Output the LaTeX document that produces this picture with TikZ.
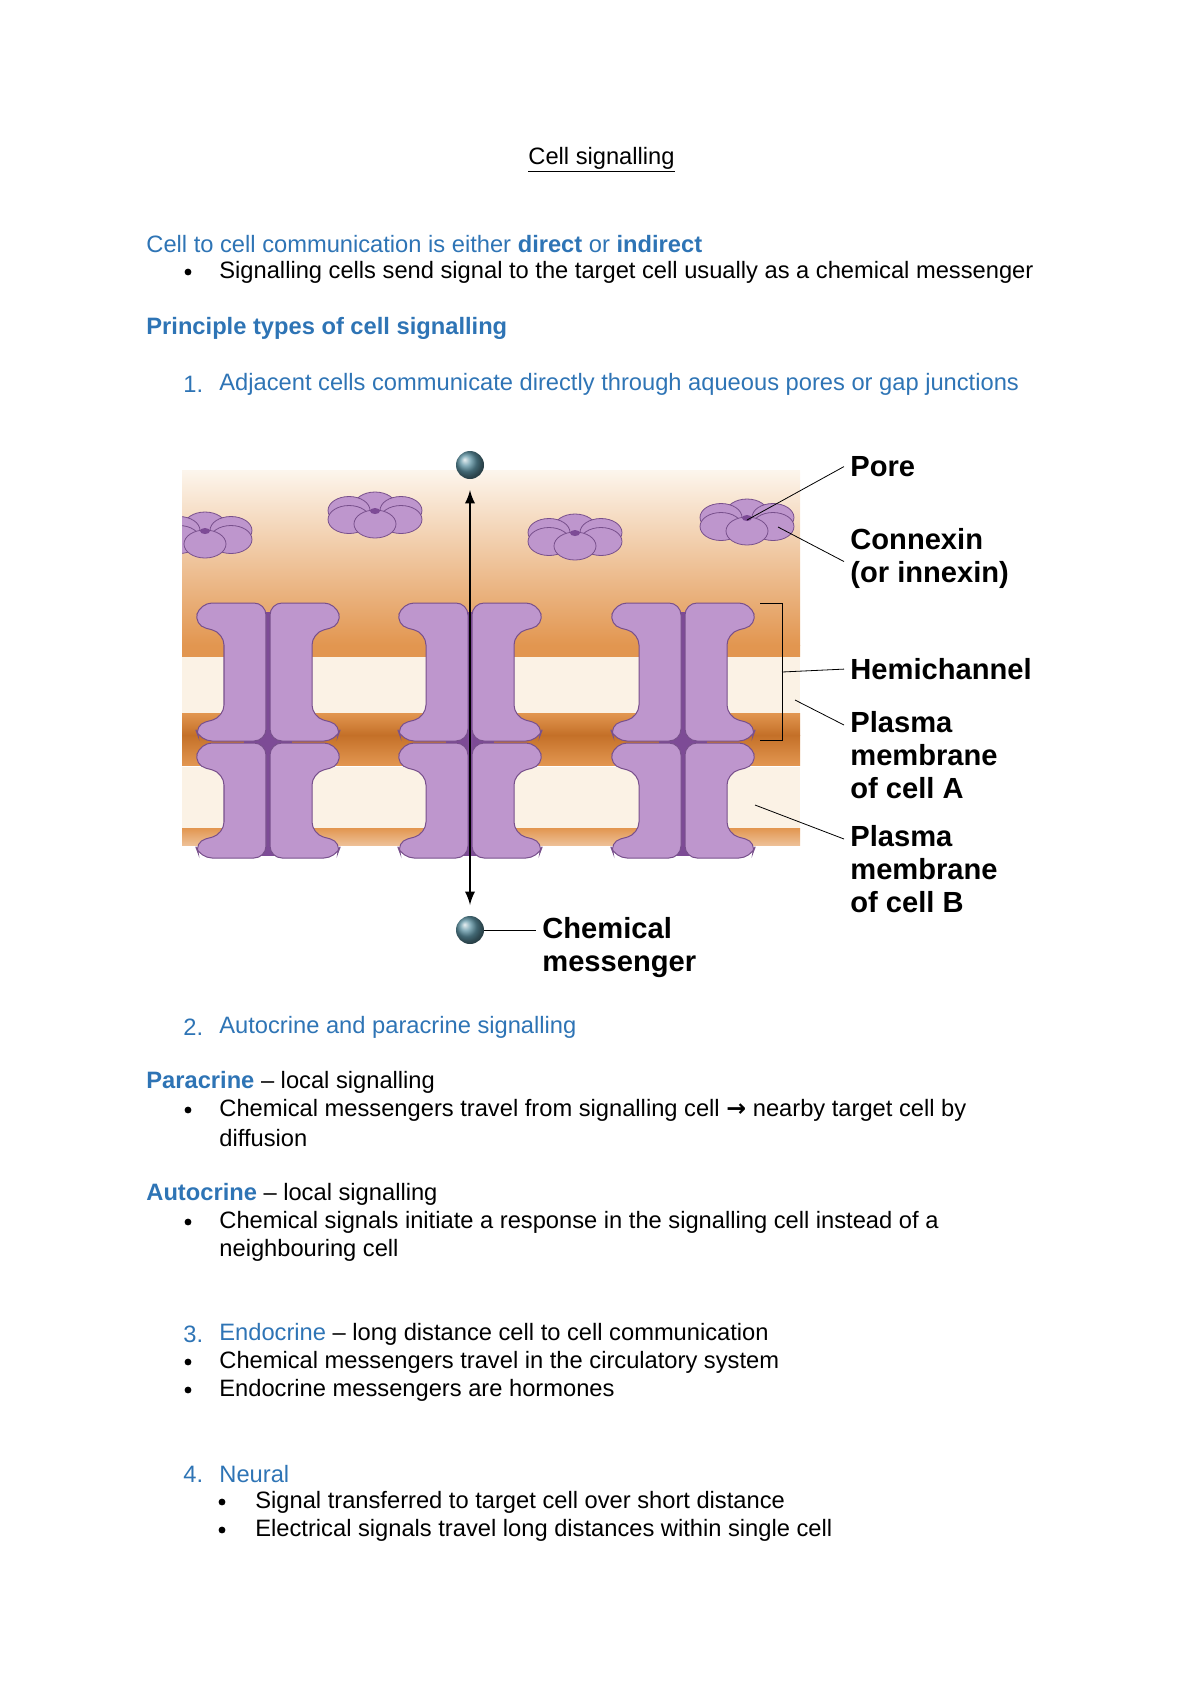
\documentclass[tikz,border=0pt]{standalone}
\usepackage{fontspec}
\setmainfont{Liberation Sans}
\newfontfamily\symfont{DejaVu Sans}
\definecolor{headblue}{RGB}{46,116,181}
\definecolor{memorange}{RGB}{226,150,80}
\definecolor{memdark}{RGB}{196,112,40}
\definecolor{memcream}{RGB}{250,236,218}
\definecolor{protlight}{RGB}{190,150,205}
\definecolor{protdark}{RGB}{125,75,150}
\definecolor{protedge}{RGB}{120,80,140}
\definecolor{balllight}{RGB}{120,175,190}
\definecolor{balldark}{RGB}{30,80,100}
\begin{document}
\begin{tikzpicture}[
    x=0.0175cm, y=-0.0175cm,
    txt/.style={anchor=west, inner sep=0pt, font=\fontsize{11.8}{13}\selectfont},
    bluetxt/.style={txt, text=headblue},
    bullet/.style={circle, fill=black, inner sep=0pt, minimum size=0.12cm},
    lab/.style={anchor=north west, inner sep=0pt, align=left,
        font=\fontsize{14.5}{16.5}\selectfont\bfseries},
    pointer/.style={thin, black},
    subunit/.style={fill=protlight, draw=protedge, line width=0.5pt, rounded corners=6pt},
    petal/.style={fill=protlight, draw=protedge, line width=0.4pt}
]
\useasboundingbox (0,0) rectangle (1200,1698);

% text above the picture
\node[txt] (title) at (528,160) {\underline{Cell signalling}};
\node[bluetxt] (intro) at (146,244) {Cell to cell communication is either \textbf{direct} or \textbf{indirect}};
\node[bullet] (b1) at (188,272) {};
\node[txt] (t1) at (219,272) {Signalling cells send signal to the target cell usually as a chemical messenger};
\node[bluetxt, font=\fontsize{11.8}{13}\selectfont\bfseries] (types) at (146,328) {Principle types of cell signalling};
\node[bluetxt] (n1) at (183,384) {1.};
\node[bluetxt] (t2) at (219,384) {Adjacent cells communicate directly through aqueous pores or gap junctions};

% membranes
\shade[top color=memcream!50!white, bottom color=memorange] (182,470) rectangle (800,645);
\fill[memcream!70!white] (182,652) rectangle (800,715);
\shade[top color=memorange, bottom color=memorange] (182,645) rectangle (800,656);
\shade[top color=memorange, bottom color=memdark] (182,713) rectangle (800,735);
\shade[top color=memdark, bottom color=memorange] (182,735) rectangle (800,765);
\fill[memcream!70!white] (182,767) rectangle (800,830);
\shade[top color=memorange, bottom color=memorange!60!white] (182,828) rectangle (800,845);

% connexons seen from above
\begin{scope}
\clip (182,440) rectangle (800,600);
\foreach \cx/\cy in {205/535, 375/515, 575/537, 747/522} {
  \foreach \a in {90,30,150,210,330,270}
    \draw[petal] ({\cx+30*cos(\a)},{\cy-9*sin(\a)}) ellipse [x radius=21, y radius=14];
  \fill[protdark] (\cx,\cy-4) ellipse [x radius=5, y radius=3];
}
\end{scope}

% gap junction channels
\foreach \cx in {268,470,683} {
  \fill[protdark] (\cx-24,612) rectangle (\cx+24,856);
  \foreach \t/\b in {603/741, 743/858} {
    \draw[subunit] (\cx-2,\t) -- (\cx-2,\b) -- (\cx-68,\b) -- (\cx-74,\b-16)
        -- (\cx-44,\b-24) -- (\cx-44,\t+30) -- (\cx-74,\t+22) -- (\cx-68,\t) -- cycle;
    \draw[subunit] (\cx+2,\t) -- (\cx+2,\b) -- (\cx+68,\b) -- (\cx+74,\b-16)
        -- (\cx+44,\b-24) -- (\cx+44,\t+30) -- (\cx+74,\t+22) -- (\cx+68,\t) -- cycle;
  }
}

% chemical messenger
\shade[ball color=balllight!70!balldark] (470,465) circle (14);
\node[circle, inner sep=0pt, minimum size=28*0.0175cm] (ballbot) at (470,930) {};
\shade[ball color=balllight!70!balldark] (ballbot) circle (14);
\coordinate (arrtop) at (470,490);
\coordinate (arrbot) at (470,905);
\draw[line width=1.3pt, <->, >=latex] (arrbot) -- (arrtop);

% labels
\node[lab] (pore) at (850,456) {Pore};
\node[lab] (conn) at (850,528) {Connexin\\(or innexin)};
\node[lab] (hemi) at (850,658) {Hemichannel};
\node[lab] (pmA) at (850,711) {Plasma\\membrane\\of cell A};
\node[lab] (pmB) at (850,825) {Plasma\\membrane\\of cell B};
\node[lab] (chem) at (542,917) {Chemical\\messenger};

\coordinate (porept) at (747,520);
\coordinate (connpt) at (778,527);
\coordinate (hemipt) at (782,672);
\coordinate (pmApt) at (795,700);
\coordinate (pmBpt) at (755,805);
\draw[pointer] (pore.west) ++(-6,0) -- (porept);
\draw[pointer] (conn.west) ++(-6,3) -- (connpt);
\draw[pointer] (760,603) -- (782,603) -- (782,740) -- (760,740);
\draw[pointer] (hemipt) -- ([xshift=-6*0.0175cm]hemi.west);
\draw[pointer] (pmA.north west) ++(-6,14) -- (pmApt);
\draw[pointer] (pmB.north west) ++(-6,14) -- (pmBpt);
\draw[pointer] (ballbot.east) -- ([xshift=-6*0.0175cm]chem.west |- ballbot);

% text below the picture
\node[bluetxt] (n2) at (183,1027) {2.};
\node[bluetxt] (t3) at (219,1027) {Autocrine and paracrine signalling};
\node[txt] (para) at (146,1082) {\textcolor{headblue}{\textbf{Paracrine}} -- local signalling};
\node[bullet] (b2) at (188,1110) {};
\node[txt] (t4) at (219,1110) {Chemical messengers travel from signalling cell {\symfont\bfseries →} nearby target cell by};
\node[txt] (t4b) at (219,1138) {diffusion};
\node[txt] (auto) at (146,1194) {\textcolor{headblue}{\textbf{Autocrine}} -- local signalling};
\node[bullet] (b3) at (188,1222) {};
\node[txt] (t5) at (219,1222) {Chemical signals initiate a response in the signalling cell instead of a};
\node[txt] (t5b) at (219,1250) {neighbouring cell};
\node[bluetxt] (n3) at (183,1334) {3.};
\node[txt] (t6) at (219,1334) {\textcolor{headblue}{Endocrine} -- long distance cell to cell communication};
\node[bullet] (b4) at (188,1362) {};
\node[txt] (t7) at (219,1362) {Chemical messengers travel in the circulatory system};
\node[bullet] (b5) at (188,1390) {};
\node[txt] (t8) at (219,1390) {Endocrine messengers are hormones};
\node[bluetxt] (n4) at (183,1474) {4.};
\node[bluetxt] (t9) at (219,1474) {Neural};
\node[bullet] (b6) at (222,1502) {};
\node[txt] (t10) at (255,1502) {Signal transferred to target cell over short distance};
\node[bullet] (b7) at (222,1530) {};
\node[txt] (t11) at (255,1530) {Electrical signals travel long distances within single cell};
\end{tikzpicture}
\end{document}
